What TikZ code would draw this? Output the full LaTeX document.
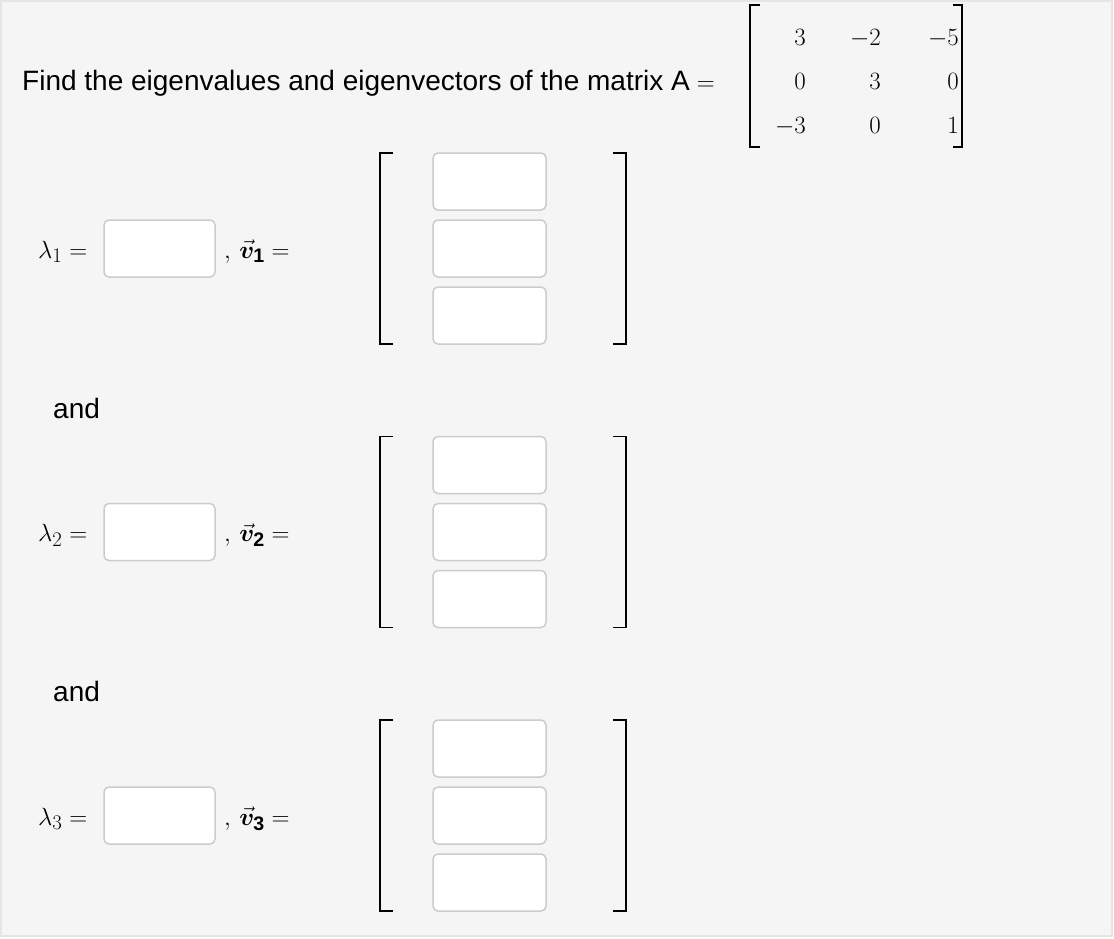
\documentclass[tikz,border=0pt]{standalone}
\usepackage{amsmath,bm}
\usepackage{fontspec}
\setmainfont{Liberation Sans}
\begin{document}
\begin{tikzpicture}[x=1pt,y=-1pt,
  inbox/.style={draw=black!20,line width=1.5pt,fill=white,rounded corners=5pt},
  brk/.style={line width=1.6pt},
  txt/.style={inner sep=0pt,font=\fontsize{28}{32}\selectfont},
  mth/.style={inner sep=0pt,font=\fontsize{28}{32}\selectfont}]
\useasboundingbox (0,0) rectangle (1114,938);
\fill[black!4] (0,0) rectangle (1112,936);
\draw[black!10,line width=1.5pt] (1,1) rectangle (1112,936);
\node[txt,anchor=base west] (q) at (22,90) {Find the eigenvalues and eigenvectors of the matrix $\mathrm{A}=$};
% matrix
\draw[line width=1.3pt] (760,5) -- (750,5) -- (750,147) -- (760,147);
\draw[line width=1.3pt] (953,5) -- (962,5) -- (962,147) -- (953,147);
\node[mth,anchor=base east] (a11) at (806,45) {$3$};
\node[mth,anchor=base east] (a12) at (881,45) {$-2$};
\node[mth,anchor=base east] (a13) at (959,45) {$-5$};
\node[mth,anchor=base east] (a21) at (806,89) {$0$};
\node[mth,anchor=base east] (a22) at (881,89) {$3$};
\node[mth,anchor=base east] (a23) at (959,89) {$0$};
\node[mth,anchor=base east] (a31) at (806,133) {$-3$};
\node[mth,anchor=base east] (a32) at (881,133) {$0$};
\node[mth,anchor=base east] (a33) at (959,133) {$1$};
\foreach \i/\off in {1/0,2/283.5,3/567}{
  \begin{scope}[yshift=-\off pt]
  \node[mth,anchor=base west] (l\i) at (38,258) {$\lambda_{\i} =$};
  \draw[inbox] (104,220) rectangle (215,277);
  \node[mth,anchor=base west] (v\i) at (224,258) {$,\,\vec{\bm v}_{\mathbf{\i}} =$};
  \draw[brk] (393,153) -- (380,153) -- (380,344) -- (393,344);
  \draw[brk] (613,153) -- (626,153) -- (626,344) -- (613,344);
  \draw[inbox] (433,153) rectangle (546,210);
  \draw[inbox] (433,220) rectangle (546,277);
  \draw[inbox] (433,287) rectangle (546,344);
  \end{scope}
}
\node[txt,anchor=base west] (and1) at (53,418) {and};
\node[txt,anchor=base west] (and2) at (53,701) {and};
\end{tikzpicture}
\end{document}
